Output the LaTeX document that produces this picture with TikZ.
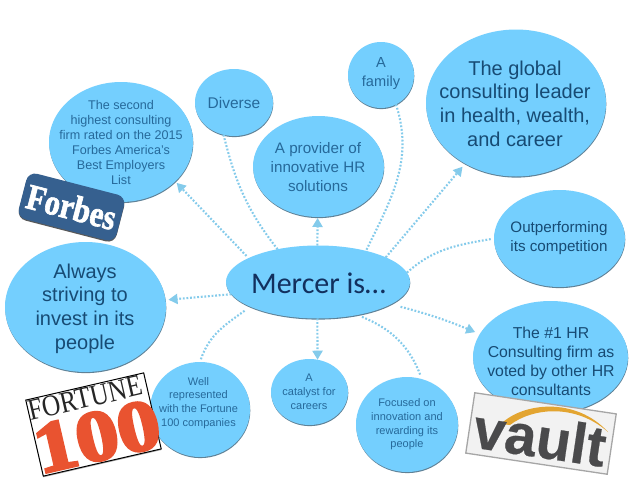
\documentclass[tikz,border=0pt]{standalone}
\usepackage{fontspec}
\usepackage{graphicx}
\usetikzlibrary{shapes.geometric,arrows.meta,shadows,calc}
\setmainfont{Liberation Sans}
\newfontfamily\calib{Carlito}
\newfontfamily\logoserif{Liberation Serif}
\newfontfamily\fatserif[FakeBold=2]{Liberation Serif Bold}
\newfontfamily\fatterserif[FakeBold=4]{Liberation Serif Bold}
\newfontfamily\logosans[FakeBold=0.4]{Liberation Sans Bold}
\definecolor{bub}{HTML}{74CFFE}
\definecolor{bubshadow}{HTML}{5F8196}
\definecolor{txtdark}{HTML}{174B74}
\definecolor{txtmid}{HTML}{26699A}
\definecolor{txtmercer}{HTML}{12305E}
\definecolor{conncol}{HTML}{84CBEB}
\definecolor{forbesblue}{HTML}{36608F}
\definecolor{fortunered}{HTML}{E95330}
\definecolor{vaultgold}{HTML}{E3A531}
\definecolor{vaultgray}{HTML}{4A4A4C}
\tikzset{
  bubble/.style={ellipse,fill=bub,inner sep=0pt,outer sep=0pt,
    general shadow={fill=bubshadow,shadow yshift=-1.1pt,shadow xshift=0.3pt}},
  txtbase/.style={align=center,inner sep=0pt},
  txtxl/.style={txtbase,text=txtdark,font=\fontsize{20}{23.6}\selectfont},
  txtl/.style={txtbase,text=txtdark,font=\fontsize{15.8}{19}\selectfont},
  txtm/.style={txtbase,text=txtmid,font=\fontsize{15}{19}\selectfont},
  txts/.style={txtbase,text=txtmid,font=\fontsize{12.6}{15}\selectfont},
  txtxs/.style={txtbase,text=txtmid,font=\fontsize{11}{13.7}\selectfont},
  conn/.style={color=conncol,line width=2.1pt,dash pattern=on 1.8pt off 1.8pt},
  connarrow/.style={conn,-{Triangle[length=9pt,width=10pt]}},
}
\begin{document}
\begin{tikzpicture}[x=1pt,y=-1pt]
\path[use as bounding box,fill=white] (0,0) rectangle (638,493);

% bubbles
\node[bubble,minimum width=184pt,minimum height=73pt] (mercer) at (318,282) {};
\node[bubble,minimum width=144pt,minimum height=120pt] (forbes) at (121,142) {};
\node[bubble,minimum width=78pt,minimum height=67pt] (diverse) at (234,102.5) {};
\node[bubble,minimum width=131pt,minimum height=101pt] (provider) at (318.5,166.5) {};
\node[bubble,minimum width=66pt,minimum height=66pt] (family) at (381,75) {};
\node[bubble,minimum width=180pt,minimum height=147pt] (global) at (516,103) {};
\node[bubble,minimum width=131pt,minimum height=97pt] (outperf) at (559.5,238.5) {};
\node[bubble,minimum width=161pt,minimum height=130pt] (always) at (85.5,307) {};
\node[bubble,minimum width=100pt,minimum height=95pt] (well) at (200,409.5) {};
\node[bubble,minimum width=77pt,minimum height=66pt] (catalyst) at (309.5,392) {};
\node[bubble,minimum width=102pt,minimum height=95pt] (focused) at (407,424.5) {};
\node[bubble,minimum width=155pt,minimum height=112pt] (hr) at (550.5,357) {};

% texts
\node[txtbase,text=txtmercer,font=\calib\fontsize{30}{32}\selectfont] (mercert) at (318.5,283.5) {Mercer is…};
\node[txts] (forbest) at (121,142) {The second\\highest consulting\\firm rated on the 2015\\Forbes America's\\Best Employers\\List};
\node[txtm,font=\fontsize{15.5}{19}\selectfont] (diverset) at (234,103) {Diverse};
\node[txtm,font=\fontsize{15.2}{19}\selectfont] (providert) at (318,167) {A provider of\\innovative HR\\solutions};
\node[txtm,font=\fontsize{14.6}{19}\selectfont] (familyt) at (381,73.5) {A\\family};
\node[txtxl] (globalt) at (515,103.5) {The global\\consulting leader\\in health, wealth,\\and career};
\node[txtl,font=\fontsize{15.2}{19}\selectfont] (outperft) at (559,238.5) {Outperforming\\its competition};
\node[txtxl] (alwayst) at (85,308.5) {Always\\striving to\\invest in its\\people};
\node[txtxs] (wellt) at (198.5,403) {Well\\represented\\with the Fortune\\100 companies};
\node[txtxs,font=\fontsize{11}{14}\selectfont] (catalystt) at (309,392) {A\\catalyst for\\careers};
\node[txtxs] (focusedt) at (407,424.5) {Focused on\\innovation and\\rewarding its\\people};
\node[txtl] (hrt) at (551,361) {The \#1 HR\\Consulting firm as\\voted by other HR\\consultants};

% connectors
\draw[connarrow,shorten <=3pt,shorten >=2pt] (mercer.161) -- (forbes.-36);
\draw[conn] (diverse.-108) to[out=-76,in=128] (mercer.141);
\draw[connarrow,shorten >=1pt] (mercer.91) -- (provider.-91);
\draw[conn] (family.-63) to[out=-72,in=64] (mercer.33);
\draw[connarrow,shorten >=4pt] (mercer.20) -- (global.-130);
\draw[conn,shorten >=2pt] (mercer.6) to[out=42,in=190] (outperf.west);
\draw[connarrow,shorten <=10pt,shorten >=5pt] (mercer.-17) to[bend left=4] (hr.162);
\draw[conn,shorten <=5pt,shorten >=3pt] (mercer.-40) to[out=-22,in=110] (focused.72);
\draw[connarrow] (mercer.-91) -- (catalyst.76);
\draw[conn,shorten <=7pt,shorten >=2pt] (mercer.200) to[out=216,in=72] (well.north);
\draw[connarrow,shorten >=3pt] (mercer.188) -- (always.5);

% Forbes logo
\node[fill=forbesblue,rounded corners=9pt,minimum width=101pt,minimum height=47pt,inner sep=0pt,rotate=-14.5,
  general shadow={fill=black!65,shadow yshift=-1.2pt},
  text=white,font=\fatserif\fontsize{36}{36}\selectfont] (forbeslogo) at (71.5,207) {\scalebox{.86}[1]{Forbes}};

% Fortune logo
\node[fill=white,draw=black,line width=1pt,minimum width=121pt,minimum height=78pt,inner sep=0pt,rotate=13,
  general shadow={fill=black!35,shadow yshift=-1.2pt}] (fortunelogo) at (93.5,424.5) {};
\node[rotate=13,inner sep=0pt,text=black!85,font=\logoserif\fontsize{30}{30}\selectfont] (fortunet) at (85,398) {\scalebox{.85}[1]{FORTUNE}};
\node[rotate=13,inner sep=0pt,text=fortunered,font=\fatterserif\fontsize{72}{72}\selectfont] (hundred) at (97,436.5) {\scalebox{1.18}[1]{100}};

% Vault logo
\node[fill=white!95!black,draw=black!35,line width=1.3pt,minimum width=143pt,minimum height=61pt,inner sep=0pt,rotate=-8.5] (vaultlogo) at (541,433.5) {};
\fill[vaultgold] (501,424) .. controls (522,403) and (575,396) .. (608,432) .. controls (575,403) and (532,408) .. (510,425) -- cycle;
\node[rotate=-8.5,inner sep=0pt,text=vaultgray,font=\logosans\fontsize{57}{57}\selectfont] (vaultt) at (540,437) {vault};
\end{tikzpicture}
\end{document}
